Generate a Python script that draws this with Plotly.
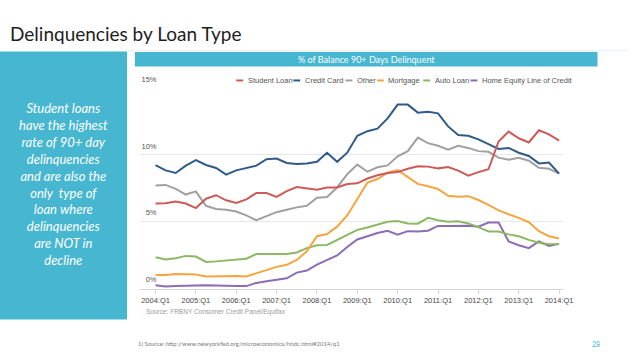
import plotly.graph_objects as go

W, H = 638, 359

quarters = [f"{y}:Q{q}" for y in range(2004, 2015) for q in range(1, 5)][:41]
tick_labels = ["2004:Q1", "2005:Q1", "2006:Q1", "2007:Q1", "2008:Q1", "2009:Q1",
               "2010:Q1", "2011:Q1", "2012:Q1", "2013:Q1", "2014:Q1"]
y_ticks = [0, 5, 10, 15]
y_tick_labels = ["0%", "5%", "10%", "15%"]

student_loan = [6.37, 6.39, 6.51, 6.37, 6.03, 6.73, 6.99, 6.61, 6.42, 6.68, 7.16, 7.16, 6.87, 7.30,
                7.60, 7.52, 7.40, 7.57, 7.57, 7.83, 7.88, 8.24, 8.48, 8.65, 8.72, 8.97, 9.16, 9.13,
                9.00, 9.10, 8.83, 8.45, 8.72, 8.93, 11.01, 11.75, 11.25, 10.94, 11.85, 11.54, 11.07]
credit_card = [9.25, 8.85, 8.65, 9.20, 9.61, 9.25, 9.03, 8.53, 8.85, 9.01, 9.20, 9.69, 9.73, 9.40,
               9.32, 9.37, 9.49, 10.17, 9.49, 10.17, 11.44, 11.78, 11.97, 12.74, 13.77, 13.77, 13.17,
               13.24, 13.12, 12.14, 11.49, 11.44, 11.17, 10.81, 10.45, 10.53, 10.17, 9.93, 9.37, 9.44, 8.60]
other = [7.71, 7.76, 7.47, 7.04, 7.28, 6.20, 5.96, 5.91, 5.77, 5.48, 5.12, 5.43, 5.72, 5.90,
         6.08, 6.20, 6.80, 6.85, 7.57, 8.56, 9.28, 8.75, 9.08, 9.22, 9.90, 10.29, 11.30, 10.89,
         10.69, 10.40, 10.69, 10.53, 10.29, 10.24, 9.80, 9.64, 9.80, 9.57, 9.04, 8.97, 8.60]
mortgage = [1.03, 1.03, 1.10, 1.10, 1.05, 0.91, 0.93, 0.95, 0.95, 0.91, 1.15, 1.39, 1.63, 1.78,
            2.15, 2.80, 3.92, 4.09, 4.64, 5.48, 6.68, 7.93, 8.20, 8.68, 8.87, 8.36, 7.84, 7.66,
            7.46, 6.95, 6.87, 6.92, 6.63, 6.27, 5.86, 5.57, 5.30, 4.97, 4.30, 3.92, 3.75]
auto_loan = [2.35, 2.19, 2.28, 2.45, 2.40, 2.00, 2.04, 2.12, 2.19, 2.24, 2.60, 2.62, 2.60, 2.60,
             2.71, 3.03, 3.24, 3.27, 3.63, 3.99, 4.40, 4.57, 4.76, 5.00, 5.06, 4.88, 4.86, 5.30,
             5.12, 5.00, 5.05, 4.88, 4.60, 4.28, 4.28, 4.06, 3.92, 3.65, 3.44, 3.32, 3.35]
heloc = [0.26, 0.17, 0.19, 0.22, 0.26, 0.26, 0.24, 0.19, 0.19, 0.19, 0.43, 0.55, 0.67, 0.77,
         1.20, 1.35, 1.80, 2.12, 2.48, 3.12, 3.68, 3.92, 4.16, 4.33, 4.04, 4.30, 4.28, 4.33,
         4.69, 4.69, 4.71, 4.71, 4.64, 4.95, 4.95, 3.53, 3.25, 3.03, 3.53, 3.20, 3.35]

names = ["Student Loan", "Credit Card", "Other", "Mortgage", "Auto Loan", "Home Equity Line of Credit"]
colors = ["#CC5B57", "#2F5A8B", "#A0A0A0", "#F5A540", "#8DB863", "#8C6DB4"]
values = [student_loan, credit_card, other, mortgage, auto_loan, heloc]

idx = list(range(len(quarters)))
tick_vals = [quarters.index(t) for t in tick_labels]


def px(x):
    return x / W


def py(y):
    return 1 - y / H


fig = go.Figure()
for name, vals, col in reversed(list(zip(names, values, colors))):
    fig.add_trace(go.Scatter(x=idx, y=vals, mode="lines", name=name,
                             line=dict(color=col, width=2), showlegend=False,
                             hovertemplate="%{y:.2f}%<extra>" + name + "</extra>"))
# invisible helper trace so the label-only y axis is drawn
fig.add_trace(go.Scatter(x=[idx[0]], y=[y_ticks[0]], yaxis="y2", mode="markers",
                         marker=dict(opacity=0), hoverinfo="skip", showlegend=False))

TEAL = "#46B6D1"
shapes = [
    dict(type="rect", xref="paper", yref="paper", x0=px(0), x1=px(129), y0=py(318), y1=py(40),
         fillcolor=TEAL, line=dict(width=0), layer="below"),
    dict(type="rect", xref="paper", yref="paper", x0=px(137), x1=px(607), y0=py(55.5), y1=py(40.5),
         fillcolor=TEAL, line=dict(width=0), layer="below"),
    dict(type="line", xref="paper", yref="paper", x0=px(129), x1=px(638), y0=py(39), y1=py(39),
         line=dict(color="#E2F4F8", width=1), layer="below"),
]

annotations = []
# legend: a short coloured dash and a label for each series
legend_dash_x = [240, 298, 351, 383, 430, 478]
LEG_Y = 70
for name, col, lx in zip(names, colors, legend_dash_x):
    shapes.append(dict(type="line", xref="paper", yref="paper", x0=px(lx), x1=px(lx + 7),
                       y0=py(LEG_Y), y1=py(LEG_Y), line=dict(color=col, width=2)))
    annotations.append(dict(text=name, x=px(lx + 9.5), y=py(LEG_Y), xanchor="left", yanchor="middle",
                            font=dict(family="Liberation Sans", size=7.5, color="#555555")))

left_text = ("<i>Student loans<br>have the highest<br>rate of 90+ day<br>delinquencies<br>"
             "and are also the<br>only  type of<br>loan where<br>delinquencies<br>are NOT in<br>decline</i>")

annotations += [
    dict(text="Delinquencies by Loan Type", x=px(8), y=py(21), xanchor="left", yanchor="middle",
         font=dict(family="Lato", size=19, color="#1E1E1E")),
    dict(text=left_text, x=px(64.5), y=py(177), xanchor="center", yanchor="middle", align="center",
         font=dict(family="Lato", size=13, color="#FFFFFF")),
    dict(text="% of Balance 90+ Days Delinquent", x=px(372), y=py(48), xanchor="center", yanchor="middle",
         font=dict(family="Lato", size=9, color="#FFFFFF")),
    dict(text="Source: FRBNY Consumer Credit Panel/Equifax", x=px(146), y=py(310), xanchor="left",
         yanchor="middle", font=dict(family="Liberation Sans", size=6.5, color="#9A9A9A")),
    dict(text="1) Source: http://www.newyorkfed.org/microeconomics/hhdc.html#2014/q1", x=px(138), y=py(343),
         xanchor="left", yanchor="middle", font=dict(family="Lato", size=6, color="#7A7A7A")),
    dict(text="28", x=px(612), y=py(343), xanchor="right", yanchor="middle",
         font=dict(family="Lato", size=7, color=TEAL)),
]
for a in annotations:
    a.update(xref="paper", yref="paper", showarrow=False)

x0_px, x1_px = 142, 572
q0_px, q_step = 158, 10.25
y_dom = [py(286), py(78)]
fig.update_layout(
    width=W, height=H, margin=dict(l=0, r=0, t=0, b=0),
    paper_bgcolor="white", plot_bgcolor="white",
    shapes=shapes, annotations=annotations,
    xaxis=dict(domain=[px(x0_px), px(x1_px)],
               range=[(x0_px - q0_px) / q_step, (x1_px - q0_px) / q_step],
               tickvals=tick_vals, ticktext=tick_labels, showgrid=False, zeroline=False,
               showline=True, linecolor="#D2D2D2", ticks="outside", ticklen=4, tickcolor="#D2D2D2",
               tickfont=dict(family="Liberation Sans", size=7.5, color="#444444")),
    yaxis=dict(domain=y_dom, range=[0, 15], tickvals=y_ticks, showticklabels=False,
               gridcolor="#E8E8E8", zeroline=False, showline=False),
    yaxis2=dict(overlaying="y", anchor="free", position=px(159), side="left", range=[0, 15],
                tickvals=y_ticks, ticktext=y_tick_labels, ticklabelposition="outside",
                ticklabelshift=-9,
                showgrid=False, zeroline=False, showline=False, ticks="",
                tickfont=dict(family="Liberation Sans", size=7.5, color="#555555")),
)

fig.write_html("out.html", config={"displayModeBar": False},
               post_script="document.body.style.margin='0px';document.body.style.padding='0px';")
